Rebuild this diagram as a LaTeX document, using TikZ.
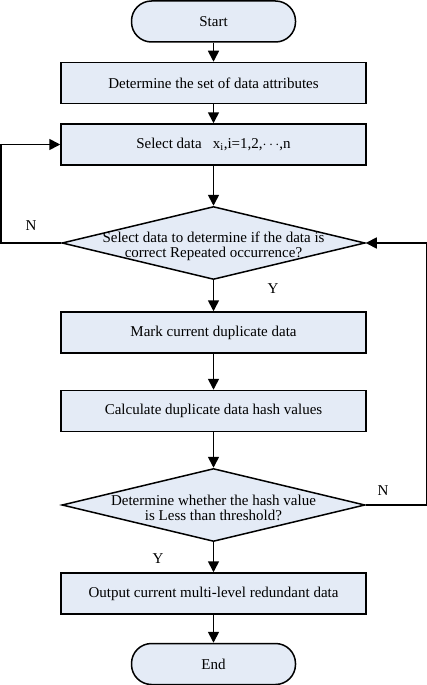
\documentclass[tikz,border=0pt]{standalone}
\usepackage{fontspec}
\setmainfont{Liberation Serif}
\usepackage{tikz}
\usetikzlibrary{shapes, arrows.meta, positioning}
\definecolor{boxfill}{RGB}{228,235,246}
\tikzstyle{startstop} = [rectangle, rounded corners=20pt, minimum width=164pt, minimum height=41pt, text centered, draw=black, line width=1.5pt, fill=boxfill]
\tikzstyle{process} = [rectangle, minimum width=305pt, minimum height=41pt, text centered, draw=black, line width=1.5pt, fill=boxfill]
\tikzstyle{decision} = [diamond, minimum width=303pt, minimum height=73pt, inner sep=0pt, draw=black, line width=1.5pt, fill=boxfill]
\tikzstyle{dtext} = [align=center, yshift=-3pt, font=\fontsize{15}{15}\selectfont]
\tikzstyle{arrow} = [line width=1.7pt, -{Triangle[length=11pt, width=11pt]}]

\begin{document}
\begin{tikzpicture}[x=1pt, y=1pt, node distance=62pt, font=\fontsize{15}{15}\selectfont]
\useasboundingbox (0,0) rectangle (427,-685);
\node (start) [startstop] at (213.5,-21.5) {Start};
\node (attr) [process, below of=start, yshift=0.5pt] {Determine the set of data attributes};
\node (select) [process, below of=attr, yshift=0.5pt] {Select data\ \ \ x\textsubscript{i},i=1,2,$\cdots$,n};
\node (repeat) [decision, below of=select, yshift=-36.5pt, label={[dtext]center:Select data to determine if the data is\\correct Repeated occurrence?}] {};
\node (mark) [process, below of=repeat, yshift=-27.5pt] {Mark current duplicate data};
\node (hash) [process, below of=mark, yshift=-16.5pt] {Calculate duplicate data hash values};
\node (thresh) [decision, below of=hash, yshift=-32pt, label={[dtext]center:Determine whether the hash value\\is Less than threshold?}] {};
\node (output) [process, below of=thresh, yshift=-26.5pt] {Output current multi-level redundant data};
\node (end) [startstop, below of=output, yshift=-8.5pt] {End};

\node (nrepeat) at (31,-226) {N};
\node (yrepeat) at (273,-289) {Y};
\node (nthresh) at (383,-491) {N};
\node (ythresh) at (158,-559) {Y};

\draw[arrow] (start) -- (attr);
\draw[arrow] (attr) -- (select);
\draw[arrow] (select) -- (repeat);
\draw[arrow] (repeat) -- (mark);
\draw[arrow] (mark) -- (hash);
\draw[arrow] (hash) -- (thresh);
\draw[arrow] (thresh) -- (output);
\draw[arrow] (output) -- (end);
\draw[arrow] (repeat.west) -- ++(-60pt,0) |- (select.west);
\draw[arrow] (thresh.east) -- ++(61pt,0) |- (repeat.east);

\end{tikzpicture}
\end{document}
